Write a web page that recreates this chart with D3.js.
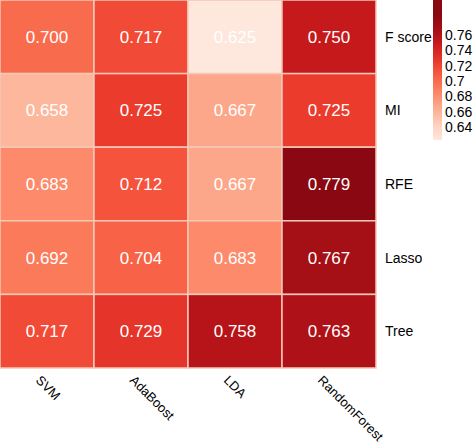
<!DOCTYPE html><html><head><script src="https://d3js.org/d3.v7.min.js"></script>
<style>body{margin:0;background:#fff}text{font-family:Arial,"Liberation Sans",sans-serif}</style></head><body><svg id="c" width="474" height="443"></svg>
<script>
const models=["SVM","AdaBoost","LDA","RandomForest"];
const methods=["F score","MI","RFE","Lasso","Tree"];
const values=[[0.700,0.717,0.625,0.750],[0.658,0.725,0.667,0.725],[0.683,0.712,0.667,0.779],[0.692,0.704,0.683,0.767],[0.717,0.729,0.758,0.763]];
const cbTicks=[0.64,0.66,0.68,0.7,0.72,0.74,0.76];
const svg=d3.select("#c");
const x=d3.scaleBand().domain(models).range([0,376]);
const y=d3.scaleBand().domain(methods).range([0,368]);
const t=d3.scaleLinear().domain([0.625,0.779]).range([0.08,0.93]);
const col=v=>d3.interpolateReds(t(v));
const cells=[];values.forEach((r,i)=>r.forEach((v,j)=>cells.push({m:methods[i],k:models[j],v})));
svg.selectAll("rect.c").data(cells).join("rect").attr("x",d=>x(d.k)).attr("y",d=>y(d.m)).attr("width",x.bandwidth()).attr("height",y.bandwidth()).attr("fill",d=>col(d.v)).attr("stroke","#f4c8b8").attr("stroke-width",1.5);
svg.selectAll("text.v").data(cells).join("text").attr("x",d=>x(d.k)+x.bandwidth()/2).attr("y",d=>y(d.m)+y.bandwidth()/2+6).attr("text-anchor","middle").attr("fill","#fff").attr("font-size",17).text(d=>d.v.toFixed(3));
svg.selectAll("text.r").data(methods).join("text").attr("x",385).attr("y",d=>y(d)+y.bandwidth()/2+5).attr("font-size",14).text(d=>d);
svg.selectAll("text.m").data(models).join("text").attr("transform",d=>`translate(${x(d)+x.bandwidth()/2-12},${381}) rotate(45)`).attr("font-size",13).text(d=>d);
// colorbar
const cb=d3.scaleLinear().domain([0.64,0.76]).range([127,35]);
const defs=svg.append("defs");const g=defs.append("linearGradient").attr("id","g").attr("x1",0).attr("x2",0).attr("y1",1).attr("y2",0);
d3.range(0,1.01,0.1).forEach(s=>{const v=cb.invert(140-s*140);g.append("stop").attr("offset",s).attr("stop-color",col(Math.max(0.625,Math.min(v,0.779))));});
svg.append("rect").attr("x",433).attr("y",0).attr("width",9).attr("height",140).attr("fill","url(#g)");
svg.selectAll("text.cb").data(cbTicks).join("text").attr("x",445).attr("y",d=>cb(d)+5).attr("font-size",14).text(d=>d);
</script></body></html>
